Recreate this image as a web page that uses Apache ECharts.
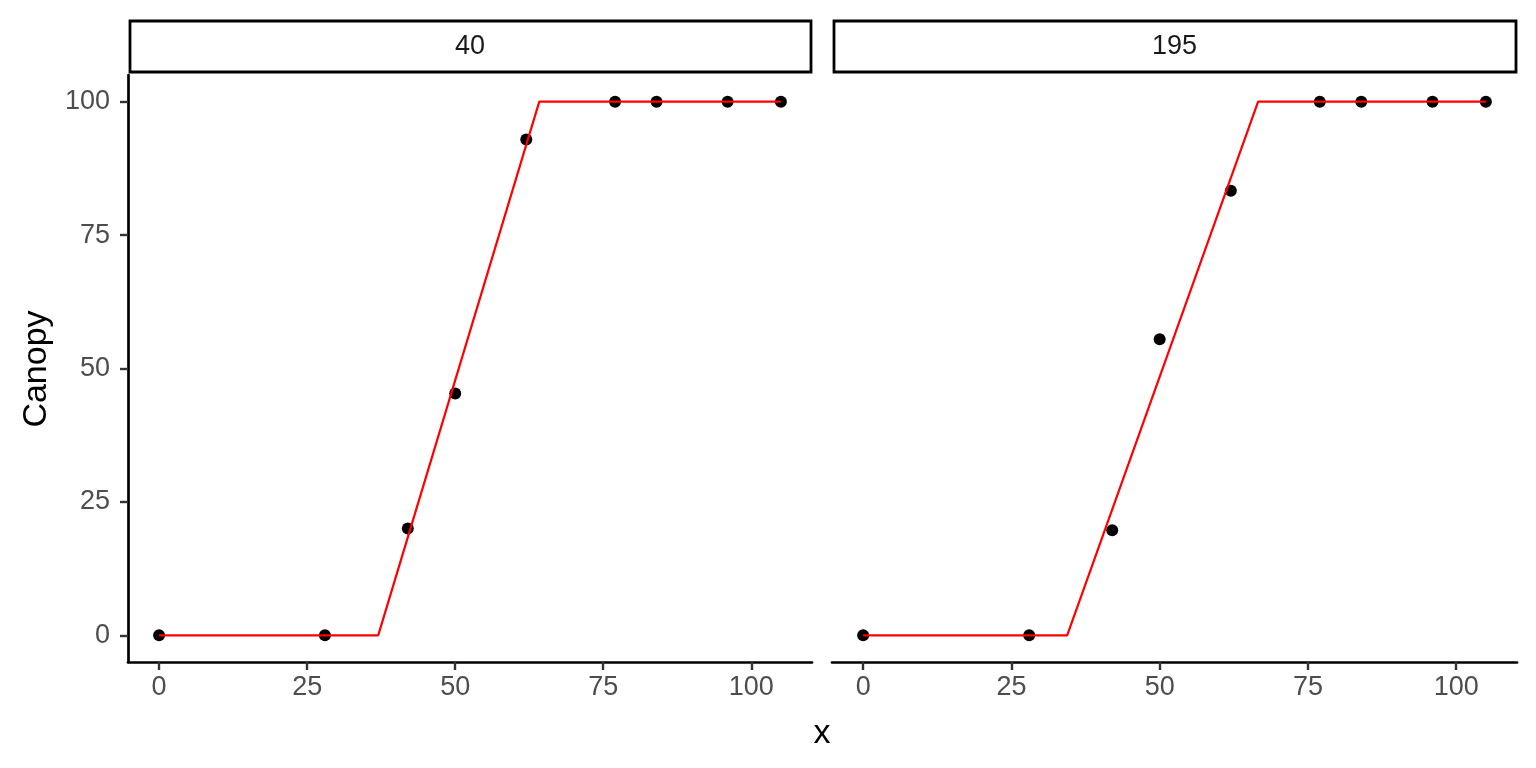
<!DOCTYPE html>
<html>
<head>
<meta charset="utf-8">
<script src="https://cdn.jsdelivr.net/npm/echarts@6/dist/echarts.min.js"></script>
<style>
  html, body { margin: 0; padding: 0; background: #fff; }
  #chart { width: 1536px; height: 768px; }
</style>
</head>
<body>
<div id="chart"></div>
<script>
// data
var facetNames = ['40', '195'];
var xVals = [0, 28, 42, 50, 62, 77, 84, 96, 105];
var canopy40 = [0, 0, 20, 45.3, 92.9, 100, 100, 100, 100];
var canopy195 = [0, 0, 19.7, 55.5, 83.3, 100, 100, 100, 100];
// fitted broken-line, break points
var fitX40 = [0, 37.0, 64.2, 105];
var fitX195 = [0, 34.4, 66.6, 105];
var fitY = [0, 0, 100, 100];
var xTicks = [0, 25, 50, 75, 100];
var yTicks = [0, 25, 50, 75, 100];

function pairs(xs, ys) {
  var out = [];
  for (var i = 0; i < xs.length; i++) out.push([xs[i], ys[i]]);
  return out;
}

var FONT = 'Liberation Sans, Arial, sans-serif';
var grids = [
  {left: 128, top: 75, width: 684, height: 587},
  {left: 832, top: 75, width: 685, height: 587}
];

function xAxisOf(i) {
  return {
    type: 'value', gridIndex: i, min: -5.25, max: 110.25,
    splitLine: {show: false},
    axisLine: {show: true, onZero: false, lineStyle: {color: '#000', width: 2.7}},
    axisTick: {show: true, length: 8, customValues: xTicks, lineStyle: {color: '#333', width: 2.4}},
    axisLabel: {show: true, customValues: xTicks, margin: 12, color: '#4D4D4D', fontSize: 27, fontFamily: FONT}
  };
}
function yAxisOf(i) {
  return {
    type: 'value', gridIndex: i, min: -5, max: 105, show: i === 0,
    splitLine: {show: false},
    axisLine: {show: true, onZero: false, lineStyle: {color: '#000', width: 2.7}},
    axisTick: {show: true, length: 8, customValues: yTicks, lineStyle: {color: '#333', width: 2.4}},
    axisLabel: {show: true, customValues: yTicks, margin: 18, color: '#4D4D4D', fontSize: 27, fontFamily: FONT}
  };
}

var graphics = [];
grids.forEach(function(g, i){
  graphics.push({
    type: 'rect', shape: {x: g.left + 2, y: 21, width: g.width - 3, height: 51},
    style: {fill: '#fff', stroke: '#000', lineWidth: 2.8}
  });
  graphics.push({
    type: 'text', x: g.left + g.width / 2, y: 47,
    style: {text: facetNames[i], fill: '#1A1A1A', fontSize: 27, fontFamily: FONT, align: 'center', verticalAlign: 'middle'}
  });
});
graphics.push({
  type: 'text', x: 822, y: 734,
  style: {text: 'x', fill: '#000', fontSize: 34, fontFamily: FONT, align: 'center', verticalAlign: 'middle'}
});
graphics.push({
  type: 'text', x: 37, y: 369, rotation: Math.PI / 2,
  style: {text: 'Canopy', fill: '#000', fontSize: 34, fontFamily: FONT, align: 'center', verticalAlign: 'middle'}
});

var myChart = echarts.init(document.getElementById('chart'));
myChart.setOption({
  animation: false,
  backgroundColor: '#fff',
  grid: grids,
  xAxis: [xAxisOf(0), xAxisOf(1)],
  yAxis: [yAxisOf(0), yAxisOf(1)],
  graphic: graphics,
  series: [
    {type: 'scatter', xAxisIndex: 0, yAxisIndex: 0, symbolSize: 12,
     itemStyle: {color: '#000', opacity: 1}, data: pairs(xVals, canopy40)},
    {type: 'line', xAxisIndex: 0, yAxisIndex: 0, symbol: 'none',
     lineStyle: {color: '#FF0000', width: 2.2}, data: pairs(fitX40, fitY)},
    {type: 'scatter', xAxisIndex: 1, yAxisIndex: 1, symbolSize: 12,
     itemStyle: {color: '#000', opacity: 1}, data: pairs(xVals, canopy195)},
    {type: 'line', xAxisIndex: 1, yAxisIndex: 1, symbol: 'none',
     lineStyle: {color: '#FF0000', width: 2.2}, data: pairs(fitX195, fitY)}
  ]
});
</script>
</body>
</html>
